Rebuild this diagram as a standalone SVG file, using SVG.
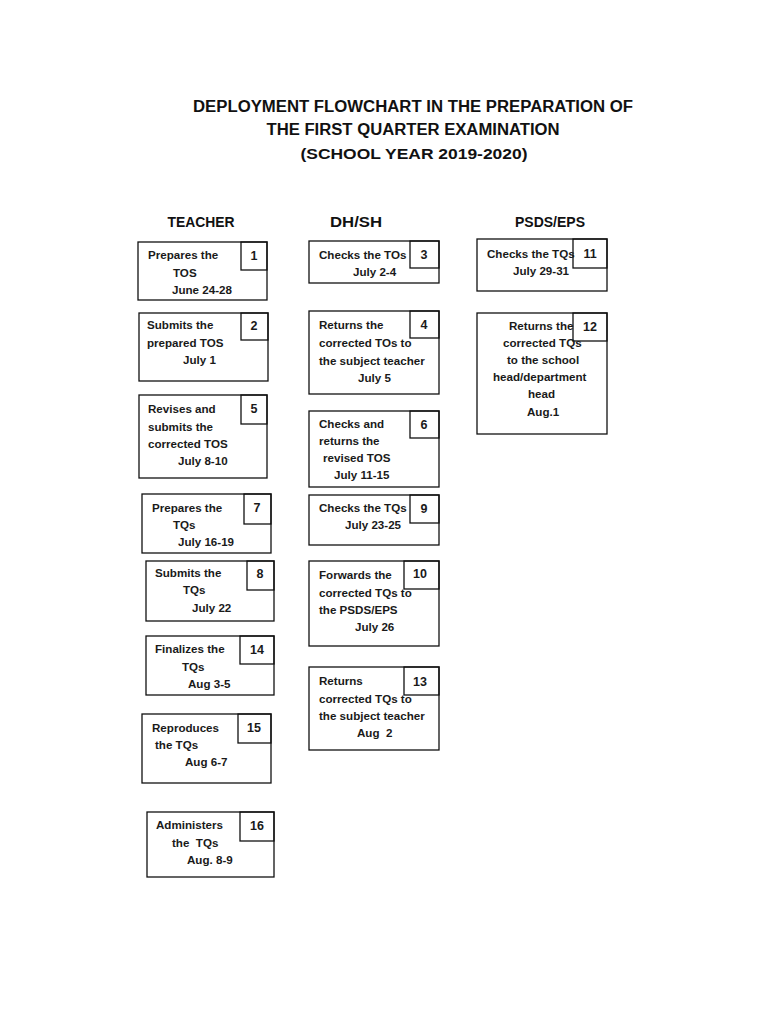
<svg xmlns="http://www.w3.org/2000/svg" width="768" height="1024" viewBox="0 0 768 1024">
<style>
.bg{fill:#fff}
.box{fill:none;stroke:#111;stroke-width:1.3}
.t{font-family:"Liberation Sans",Arial,sans-serif;font-size:11.6px;font-weight:bold;fill:#1a1a1a}
.n{font-family:"Liberation Sans",Arial,sans-serif;font-size:12.5px;font-weight:bold;fill:#1a1a1a;text-anchor:middle}
.h1{font-family:"Liberation Sans",Arial,sans-serif;font-size:16px;font-weight:bold;fill:#111;text-anchor:middle}
.h2{font-family:"Liberation Sans",Arial,sans-serif;font-size:14px;font-weight:bold;fill:#111;text-anchor:middle}
</style>
<rect class="bg" x="0" y="0" width="768" height="1024"/>
<g id="title">
<text class="h1" x="413" y="112" textLength="440" lengthAdjust="spacingAndGlyphs">DEPLOYMENT FLOWCHART IN THE PREPARATION OF</text>
<text class="h1" x="413" y="135" textLength="293" lengthAdjust="spacingAndGlyphs">THE FIRST QUARTER EXAMINATION</text>
<text class="h2" x="414" y="159" textLength="227" lengthAdjust="spacingAndGlyphs">(SCHOOL YEAR 2019-2020)</text>
</g>
<g id="lanes">
<text class="h2" x="201" y="227" textLength="67" lengthAdjust="spacingAndGlyphs">TEACHER</text>
<text class="h2" x="356" y="227" textLength="52" lengthAdjust="spacingAndGlyphs">DH/SH</text>
<text class="h2" x="550" y="227" textLength="70" lengthAdjust="spacingAndGlyphs">PSDS/EPS</text>
</g>
<g id="connectors"></g>

<g id="node1">
<rect class="box" x="138" y="242" width="129" height="58"/>
<rect class="box" x="241" y="242" width="26" height="28"/>
<text class="n" x="254" y="260">1</text>
<text class="t" x="148" y="259">Prepares the</text>
<text class="t" x="173" y="277">TOS</text>
<text class="t" x="172" y="294">June 24-28</text>
</g>
<g id="node2">
<rect class="box" x="139" y="313" width="129" height="68"/>
<rect class="box" x="241" y="313" width="27" height="27"/>
<text class="n" x="254" y="330">2</text>
<text class="t" x="147" y="329">Submits the</text>
<text class="t" x="147" y="347">prepared TOS</text>
<text class="t" x="183" y="364">July 1</text>
</g>
<g id="node5">
<rect class="box" x="139" y="395" width="128" height="83"/>
<rect class="box" x="241" y="395" width="26" height="29"/>
<text class="n" x="254" y="413">5</text>
<text class="t" x="148" y="413">Revises and</text>
<text class="t" x="148" y="431">submits the</text>
<text class="t" x="148" y="448">corrected TOS</text>
<text class="t" x="178" y="465">July 8-10</text>
</g>
<g id="node7">
<rect class="box" x="142" y="494" width="129" height="59"/>
<rect class="box" x="244" y="494" width="27" height="30"/>
<text class="n" x="257" y="512">7</text>
<text class="t" x="152" y="512">Prepares the</text>
<text class="t" x="173" y="529">TQs</text>
<text class="t" x="178" y="546">July 16-19</text>
</g>
<g id="node8">
<rect class="box" x="146" y="561" width="128" height="60"/>
<rect class="box" x="247" y="561" width="27" height="29"/>
<text class="n" x="260" y="578">8</text>
<text class="t" x="155" y="577">Submits the</text>
<text class="t" x="183" y="594">TQs</text>
<text class="t" x="192" y="612">July 22</text>
</g>
<g id="node14">
<rect class="box" x="146" y="636" width="128" height="59"/>
<rect class="box" x="240" y="636" width="34" height="28"/>
<text class="n" x="257" y="654">14</text>
<text class="t" x="155" y="653">Finalizes the</text>
<text class="t" x="182" y="671">TQs</text>
<text class="t" x="188" y="688">Aug 3-5</text>
</g>
<g id="node15">
<rect class="box" x="142" y="714" width="129" height="69"/>
<rect class="box" x="238" y="714" width="33" height="29"/>
<text class="n" x="254" y="732">15</text>
<text class="t" x="152" y="732">Reproduces</text>
<text class="t" x="155" y="749">the TQs</text>
<text class="t" x="185" y="766">Aug 6-7</text>
</g>
<g id="node16">
<rect class="box" x="147" y="812" width="127" height="65"/>
<rect class="box" x="240" y="812" width="34" height="29"/>
<text class="n" x="257" y="830">16</text>
<text class="t" x="156" y="829">Administers</text>
<text class="t" x="172" y="847" xml:space="preserve">the  TQs</text>
<text class="t" x="187" y="864">Aug. 8-9</text>
</g>

<g id="node3">
<rect class="box" x="309" y="241" width="130" height="42"/>
<rect class="box" x="410" y="241" width="29" height="27"/>
<text class="n" x="424" y="259">3</text>
<text class="t" x="319" y="259">Checks the TOs</text>
<text class="t" x="353" y="276">July 2-4</text>
</g>
<g id="node4">
<rect class="box" x="309" y="311" width="130" height="83"/>
<rect class="box" x="410" y="311" width="29" height="27"/>
<text class="n" x="424" y="329">4</text>
<text class="t" x="319" y="329">Returns the</text>
<text class="t" x="319" y="347">corrected TOs to</text>
<text class="t" x="319" y="365">the subject teacher</text>
<text class="t" x="358" y="382">July 5</text>
</g>
<g id="node6">
<rect class="box" x="309" y="411" width="130" height="76"/>
<rect class="box" x="410" y="411" width="29" height="27"/>
<text class="n" x="424" y="429">6</text>
<text class="t" x="319" y="428">Checks and</text>
<text class="t" x="319" y="445">returns the</text>
<text class="t" x="323" y="462">revised TOS</text>
<text class="t" x="334" y="479">July 11-15</text>
</g>
<g id="node9">
<rect class="box" x="309" y="495" width="130" height="50"/>
<rect class="box" x="410" y="495" width="29" height="28"/>
<text class="n" x="424" y="513">9</text>
<text class="t" x="319" y="512">Checks the TQs</text>
<text class="t" x="345" y="529">July 23-25</text>
</g>
<g id="node10">
<rect class="box" x="309" y="561" width="130" height="85"/>
<rect class="box" x="404" y="561" width="35" height="28"/>
<text class="n" x="420" y="578">10</text>
<text class="t" x="319" y="579">Forwards the</text>
<text class="t" x="319" y="597">corrected TQs to</text>
<text class="t" x="319" y="614">the PSDS/EPS</text>
<text class="t" x="355" y="631">July 26</text>
</g>
<g id="node13">
<rect class="box" x="309" y="667" width="130" height="83"/>
<rect class="box" x="404" y="667" width="35" height="28"/>
<text class="n" x="420" y="686">13</text>
<text class="t" x="319" y="685">Returns</text>
<text class="t" x="319" y="703">corrected TQs to</text>
<text class="t" x="319" y="720">the subject teacher</text>
<text class="t" x="357" y="737" xml:space="preserve">Aug  2</text>
</g>

<g id="node11">
<rect class="box" x="477" y="239" width="130" height="52"/>
<rect class="box" x="573" y="239" width="34" height="29"/>
<text class="n" x="590" y="258">11</text>
<text class="t" x="487" y="258">Checks the TQs</text>
<text class="t" x="513" y="275">July 29-31</text>
</g>
<g id="node12">
<rect class="box" x="477" y="313" width="130" height="121"/>
<rect class="box" x="573" y="313" width="34" height="28"/>
<text class="n" x="590" y="331">12</text>
<text class="t" x="509" y="330">Returns the</text>
<text class="t" x="503" y="347">corrected TQs</text>
<text class="t" x="507" y="364">to the school</text>
<text class="t" x="493" y="381">head/department</text>
<text class="t" x="528" y="398">head</text>
<text class="t" x="527" y="416">Aug.1</text>
</g>
</svg>
